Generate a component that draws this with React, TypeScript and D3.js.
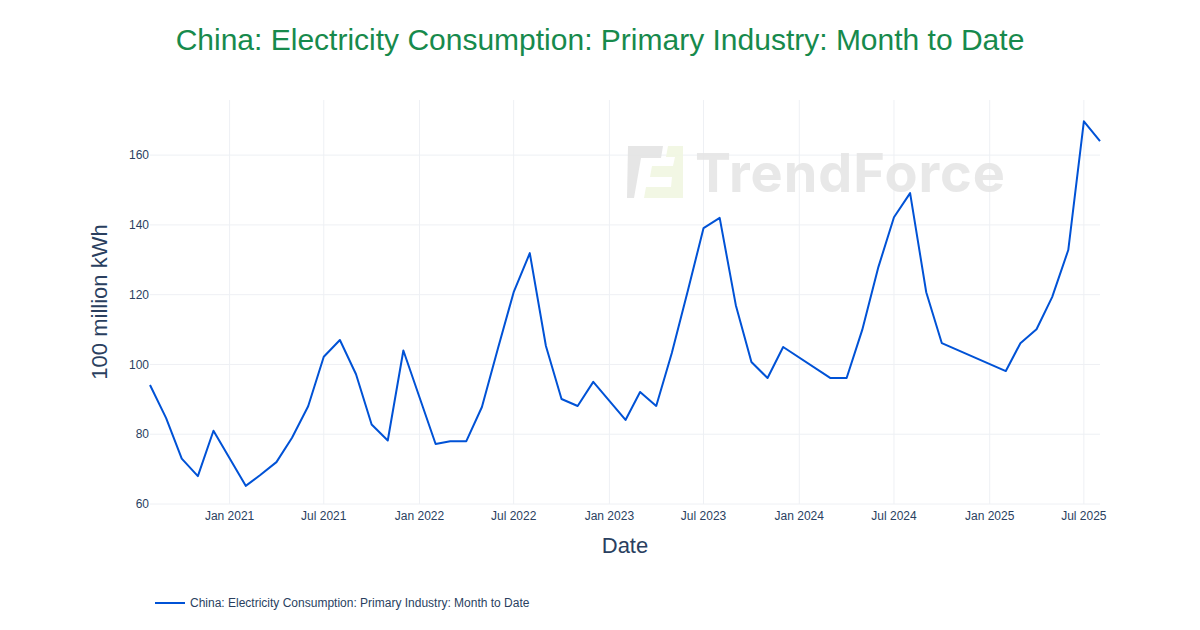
import React, { useEffect, useMemo } from "react";
import * as d3 from "d3";

// month (YYYY-MM) and value
const months = [
  "2020-08", "2020-09", "2020-10", "2020-11", "2020-12",
  "2021-02", "2021-03", "2021-04", "2021-05", "2021-06", "2021-07", "2021-08", "2021-09", "2021-10", "2021-11", "2021-12",
  "2022-02", "2022-03", "2022-04", "2022-05", "2022-06", "2022-07", "2022-08", "2022-09", "2022-10", "2022-11", "2022-12",
  "2023-02", "2023-03", "2023-04", "2023-05", "2023-06", "2023-07", "2023-08", "2023-09", "2023-10", "2023-11", "2023-12",
  "2024-03", "2024-04", "2024-05", "2024-06", "2024-07", "2024-08", "2024-09", "2024-10",
  "2025-02", "2025-03", "2025-04", "2025-05", "2025-06", "2025-07", "2025-08",
];

const values = [
  94.1, 84.6, 73.0, 68.0, 81.0,
  65.2, 68.3, 72.0, 79.0, 88.0, 102.2, 107.0, 97.2, 82.8, 78.2, 104.0,
  77.2, 78.0, 78.0, 87.8, 104.7, 120.7, 131.9, 105.3, 90.1, 88.1, 95.0,
  84.1, 92.1, 88.1, 103.3, 121.3, 139.1, 142.0, 117.0, 100.7, 96.1, 105.0,
  96.1, 96.1, 109.9, 127.9, 142.2, 149.1, 120.7, 106.1,
  98.1, 106.1, 110.1, 119.3, 132.8, 169.7, 164.0,
];

const yTicks = [60, 80, 100, 120, 140, 160];
const xTickMonths = [
  "2021-01", "2021-07", "2022-01", "2022-07", "2023-01",
  "2023-07", "2024-01", "2024-07", "2025-01", "2025-07",
];

const seriesName = "China: Electricity Consumption: Primary Industry: Month to Date";
const titleText = "China: Electricity Consumption: Primary Industry: Month to Date";

const W = 1200;
const H = 630;
const margin = { left: 150, right: 100, top: 100, bottom: 126 };
const FONT = "Arial, 'Liberation Sans', sans-serif";
const TEXT = "#2a3f5f";
const GRID = "#eef0f4";
const LINE = "#0052d6";

const parseMonth = d3.timeParse("%Y-%m");
const fmtTick = d3.timeFormat("%b %Y");

export default function App() {
  useEffect(() => {
    document.body.style.margin = "0";
  }, []);

  const { x, y, path, xt } = useMemo(() => {
    const x = d3
      .scaleTime()
      .domain([parseMonth("2020-08")!, parseMonth("2025-08")!])
      .range([margin.left, W - margin.right]);
    const y = d3
      .scaleLinear()
      .domain([60, 175.8])
      .range([H - margin.bottom, margin.top]);
    const pts = months.map((m, i) => ({ d: parseMonth(m)!, v: values[i] }));
    const path = d3
      .line<{ d: Date; v: number }>()
      .x((p) => x(p.d))
      .y((p) => y(p.v))(pts);
    const xt = xTickMonths.map((m) => parseMonth(m)!);
    return { x, y, path, xt };
  }, []);

  const plotBottom = H - margin.bottom;
  const plotMid = (margin.top + plotBottom) / 2;

  return (
    <svg width={W} height={H} style={{ display: "block", background: "#fff" }} fontFamily={FONT}>
      <text x={600} y={50} textAnchor="middle" fontSize={30} fill="#178a4c">
        {titleText}
      </text>

      {/* grid */}
      <g stroke={GRID} strokeWidth={1}>
        {xt.map((d) => (
          <line key={d.toISOString()} x1={x(d)} x2={x(d)} y1={margin.top} y2={plotBottom} />
        ))}
        {yTicks.map((t) => (
          <line key={t} x1={margin.left} x2={W - margin.right} y1={y(t)} y2={y(t)} />
        ))}
      </g>

      {/* watermark */}
      <g opacity={0.9}>
        <path d="M628,146 L663,146 L661,158 L641,158 L634,198 L627,198 Z" fill="#e4e4e4" />
        <path d="M668,146 L683,146 L683,198 L644,198 L646,187 L671,187 L672,177 L650,177 L652,166 L673,166 L675,157 L666,157 Z" fill="#f1f7e2" />
        <text x={695} y={192} fontSize={54} fontWeight="bold" fill="#e6e6e6" textLength={310} fontFamily="Inter, 'DejaVu Sans', sans-serif">
          TrendForce
        </text>
      </g>

      {/* y tick labels */}
      <g fontSize={12} fill={TEXT} textAnchor="end">
        {yTicks.map((t) => (
          <text key={t} x={149} y={y(t)} dy="0.35em">
            {t}
          </text>
        ))}
      </g>

      {/* x tick labels */}
      <g fontSize={12} fill={TEXT} textAnchor="middle">
        {xt.map((d) => (
          <text key={d.toISOString()} x={x(d)} y={520}>
            {fmtTick(d)}
          </text>
        ))}
      </g>

      <text
        transform={`translate(107,${plotMid}) rotate(-90)`}
        textAnchor="middle"
        fontSize={22}
        fill={TEXT}
      >
        100 million kWh
      </text>
      <text x={(margin.left + W - margin.right) / 2} y={553} textAnchor="middle" fontSize={22} fill={TEXT}>
        Date
      </text>

      <path d={path || ""} fill="none" stroke={LINE} strokeWidth={2} strokeLinejoin="round" />

      {/* legend */}
      <line x1={155} x2={185} y1={603} y2={603} stroke={LINE} strokeWidth={2} />
      <text x={190} y={603} dy="0.35em" fontSize={12} fill={TEXT}>
        {seriesName}
      </text>
    </svg>
  );
}
